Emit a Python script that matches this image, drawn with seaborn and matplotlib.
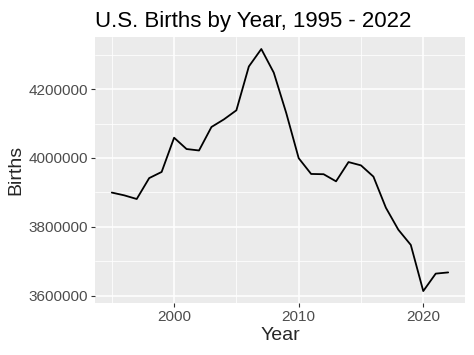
import numpy as np
import pandas as pd
import matplotlib
matplotlib.use('Agg')
import matplotlib.pyplot as plt
import seaborn as sns
from matplotlib.ticker import MultipleLocator, FixedLocator

years = list(range(1995, 2023))
births = [3899589, 3891494, 3880894, 3941553, 3959417, 4058814, 4025933, 4021726,
          4089950, 4112052, 4138349, 4265555, 4316233, 4247694, 4130665, 3999386,
          3953590, 3952841, 3932181, 3988076, 3978497, 3945875, 3855500, 3791712,
          3747540, 3613647, 3664292, 3667758]

df = pd.DataFrame({'Year': years, 'Births': births})

sns.set_theme(style='darkgrid')
plt.rcParams['font.family'] = ['Liberation Sans', 'DejaVu Sans']

fig = plt.figure(figsize=(4.74, 3.55), dpi=100)
ax = fig.add_axes([0.2004, 0.146, 0.7806, 0.75])
ax.set_facecolor('#EBEBEB')

sns.lineplot(x='Year', y='Births', data=df, ax=ax, color='black', linewidth=1.3)

# ggplot-style 5% expansion
xr = max(years) - min(years)
yr = max(births) - min(births)
ax.set_xlim(min(years) - 0.05 * xr, max(years) + 0.05 * xr)
ax.set_ylim(min(births) - 0.05 * yr, max(births) + 0.05 * yr)

ax.xaxis.set_major_locator(FixedLocator([2000, 2010, 2020]))
ax.xaxis.set_minor_locator(FixedLocator([1995, 2005, 2015]))
ax.yaxis.set_major_locator(MultipleLocator(200000))
ax.yaxis.set_minor_locator(FixedLocator([3700000, 3900000, 4100000, 4300000]))
ax.yaxis.set_major_formatter(matplotlib.ticker.FuncFormatter(lambda v, p: f'{int(v)}'))

ax.grid(which='major', color='white', linewidth=1.1)
ax.grid(which='minor', color='white', linewidth=0.55)
for s in ax.spines.values():
    s.set_visible(False)
ax.tick_params(which='major', length=3, width=0.8, color='#333333',
               labelcolor='#4D4D4D', labelsize=11, pad=2, bottom=True, left=True)
ax.tick_params(which='minor', length=0)

ax.set_title('U.S. Births by Year, 1995 - 2022', fontsize=16, loc='left', pad=7,
             color='black')
ax.set_xlabel('Year', fontsize=14, labelpad=2)
ax.set_ylabel('Births', fontsize=14, labelpad=3)

fig.savefig('out.png', dpi=100)
